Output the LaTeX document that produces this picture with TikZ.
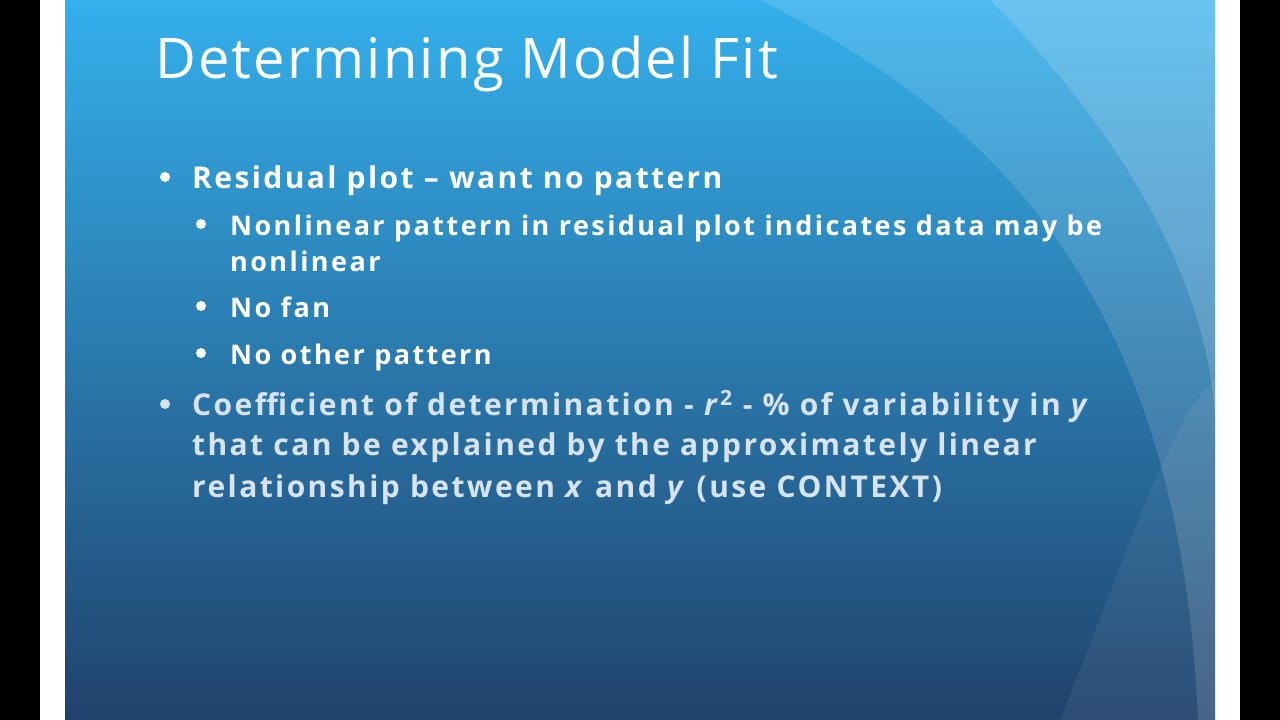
\documentclass[tikz,border=0pt]{standalone}
\usepackage{fontspec}
\setmainfont{Open Sans}
\begin{document}
\begin{tikzpicture}[x=1pt,y=-1pt,
  title/.style={anchor=base west,text=white,font=\fontsize{56}{60}\selectfont\addfontfeature{LetterSpace=4},inner sep=0},
  lone/.style={anchor=base west,text=white,font=\fontsize{30}{34}\selectfont\bfseries\addfontfeature{LetterSpace=8},inner sep=0},
  ltwo/.style={anchor=base west,text=white,font=\fontsize{27}{31}\selectfont\bfseries\addfontfeature{LetterSpace=9},inner sep=0},
  lgray/.style={anchor=base west,text={rgb,255:red,215;green,228;blue,240},font=\fontsize{30}{34}\selectfont\bfseries\addfontfeature{LetterSpace=8},inner sep=0},
  dot/.style={circle,fill=white,inner sep=0,minimum size=#1}]
\useasboundingbox (0,0) rectangle (1280,720);
\fill[black] (0,0) rectangle (1280,720);
\fill[white] (40,0) rectangle (1240,720);
\shade[top color={rgb,255:red,52;green,176;blue,236},bottom color={rgb,255:red,32;green,66;blue,108}] (65,0) rectangle (1215,720);
\fill[white,opacity=0.13] (760,0) .. controls (1000,120) and (1180,300) .. (1198,720) -- (1215,720) -- (1215,0) -- cycle;
\fill[white,opacity=0.15] (990,0) .. controls (1140,150) and (1210,300) .. (1215,420) -- (1215,0) -- cycle;
\fill[white,opacity=0.06] (1060,720) .. controls (1140,520) and (1170,420) .. (1215,380) -- (1215,720) -- cycle;
\node[title] (t) at (155,78) {Determining Model Fit};
\node[dot=10pt] (b1) at (165,177) {};
\node[lone] (l1) at (192,188) {Residual plot – want no pattern};
\node[dot=10pt] (s1) at (201,224) {};
\node[ltwo] (l2) at (230,235) {Nonlinear pattern in residual plot indicates data may be};
\node[ltwo] (l3) at (230,271) {nonlinear};
\node[dot=10pt] (s2) at (201,306) {};
\node[ltwo] (l4) at (230,317) {No fan};
\node[dot=10pt] (s3) at (201,353) {};
\node[ltwo] (l5) at (230,364) {No other pattern};
\node[dot=10pt,fill={rgb,255:red,215;green,228;blue,240}] (b2) at (165,404) {};
\node[lgray] (l6) at (192,415) {Coefficient of determination - \textit{r}\textsuperscript{2} - \% of variability in \textit{y}};
\node[lgray] (l7) at (192,455) {that can be explained by the approximately linear};
\node[lgray] (l8) at (192,497) {relationship between \textit{x} and \textit{y} (use CONTEXT)};
\end{tikzpicture}
\end{document}
